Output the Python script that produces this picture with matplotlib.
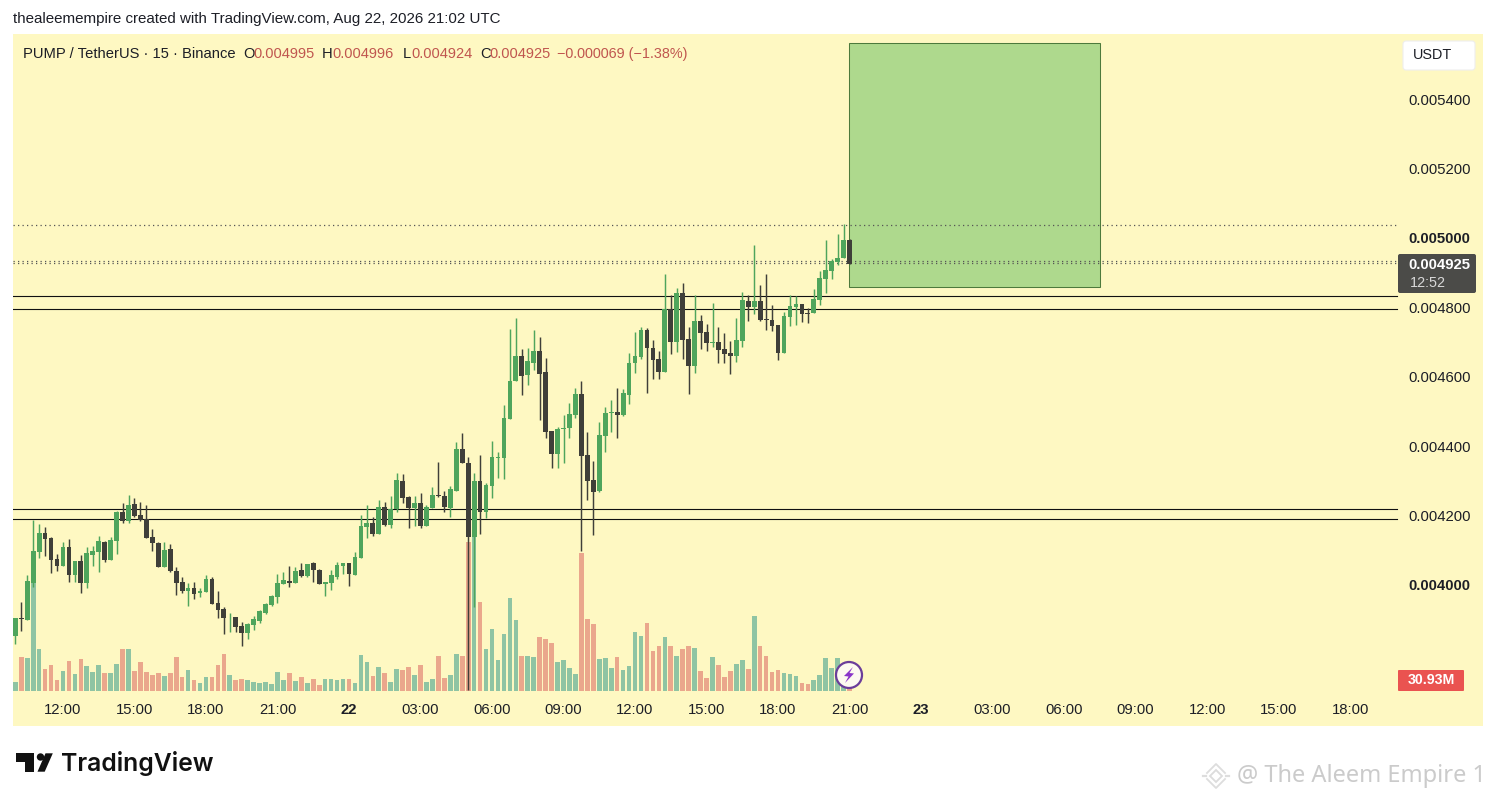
#!/usr/bin/env python3
import numpy as np
import matplotlib
matplotlib.use("Agg")
import matplotlib.pyplot as plt
from matplotlib.patches import Rectangle, FancyBboxPatch, Circle, Polygon

plt.rcParams['font.family'] = ['Liberation Sans', 'DejaVu Sans']

# 15 min candles, prices in millionths of USDT, first bar is 10:00
opens = [3854,3905,3899,4005,4096,4149,4135,4075,4055,4109,
         4029,4069,4007,4086,4095,4124,4072,4128,4209,4185,
         4233,4201,4189,4137,4120,4053,4103,4040,4009,3984,
         3990,3978,3980,4017,3947,3931,3907,3908,3882,3863,
         3885,3895,3920,3941,3966,4003,4011,4007,4043,4026,
         4064,4043,4004,4007,4024,4056,4062,4030,4079,4167,
         4178,4147,4225,4173,4218,4300,4254,4221,4236,4170,
         4223,4259,4256,4223,4272,4391,4352,4137,4299,4209,
         4286,4366,4367,4478,4588,4660,4605,4641,4674,4614,
         4444,4377,4450,4452,4489,4550,4375,4303,4271,4429,
         4496,4498,4489,4548,4640,4657,4735,4682,4651,4614,
         4795,4700,4841,4708,4631,4760,4729,4698,4700,4680,
         4669,4660,4704,4818,4801,4818,4767,4764,4749,4669,
         4772,4801,4810,4784,4785,4821,4882,4906,4931,4942,4995]
closes = [3904,3903,4012,4098,4149,4133,4072,4055,4109,4030,
          4069,4007,4091,4098,4126,4072,4130,4210,4183,4230,
          4200,4187,4136,4120,4053,4101,4040,4007,3984,3990,
          3975,3983,4018,3946,3929,3906,3909,3880,3863,3887,
          3903,3926,3945,3969,4006,4014,4007,4040,4026,4060,
          4043,4003,4009,4029,4059,4064,4032,4080,4170,4180,
          4147,4225,4173,4218,4303,4252,4223,4236,4170,4225,
          4258,4256,4225,4276,4391,4352,4137,4300,4209,4288,
          4368,4370,4480,4588,4660,4602,4645,4674,4609,4441,
          4378,4450,4452,4493,4550,4373,4300,4268,4432,4496,
          4498,4490,4553,4640,4660,4735,4684,4648,4614,4795,
          4701,4841,4706,4632,4761,4726,4697,4701,4677,4666,
          4660,4706,4821,4801,4818,4764,4765,4746,4670,4774,
          4804,4810,4782,4782,4824,4884,4908,4934,4942,4994,4925]
highs = [3904,3952,4029,4187,4176,4168,4137,4089,4124,4132,
         4069,4085,4110,4112,4141,4128,4139,4214,4235,4259,
         4250,4239,4231,4160,4125,4125,4117,4051,4022,4005,
         4009,3990,4028,4024,3983,3936,3918,3909,3894,3890,
         3911,3928,3947,3971,4031,4038,4055,4053,4064,4060,
         4067,4045,4009,4043,4067,4064,4064,4094,4202,4231,
         4197,4245,4240,4257,4324,4319,4257,4257,4264,4231,
         4283,4353,4272,4285,4413,4439,4370,4324,4375,4295,
         4416,4384,4519,4737,4768,4679,4684,4735,4716,4655,
         4444,4456,4490,4525,4567,4589,4442,4358,4471,4512,
         4533,4567,4564,4668,4730,4743,4740,4706,4675,4896,
         4836,4855,4869,4743,4836,4779,4752,4812,4744,4725,
         4704,4768,4845,4836,4980,4865,4896,4807,4749,4788,
         4836,4833,4810,4797,4852,4906,4994,4939,5012,5040,4996]
lows = [3830,3868,3899,3995,4077,4084,4034,4041,4055,4010,
        4010,3978,3990,4055,4036,4066,4072,4089,4180,4180,
        4197,4185,4136,4099,4053,4051,4036,3971,3976,3939,
        3960,3966,3980,3946,3906,3859,3865,3865,3825,3845,
        3870,3889,3915,3939,3947,4003,3995,4007,4022,4024,
        4008,4003,3968,3986,4016,4032,3997,4028,4079,4134,
        4142,4147,4171,4165,4209,4235,4165,4171,4164,4170,
        4221,4255,4211,4197,4272,4352,3697,3937,4147,4192,
        4252,4307,4304,4478,4588,4548,4576,4621,4475,4423,
        4337,4337,4351,4423,4480,4098,4245,4144,4269,4384,
        4442,4423,4487,4521,4612,4650,4554,4594,4594,4614,
        4665,4672,4651,4550,4612,4679,4675,4685,4639,4639,
        4608,4644,4687,4761,4781,4761,4735,4733,4648,4668,
        4746,4749,4759,4754,4785,4808,4841,4881,4922,4942,4924]
# volume in millions
volumes = [25,96,92,311,117,61,72,30,55,83,
           47,89,69,53,72,51,51,75,117,117,
           55,81,53,44,51,41,50,96,39,58,
           30,22,39,39,72,103,44,30,33,30,
           24,22,24,19,53,30,50,27,38,22,
           33,16,33,33,31,33,33,22,99,81,
           41,67,50,24,61,58,67,44,72,24,
           33,98,36,44,103,98,418,432,250,117,
           173,86,159,260,199,98,98,95,151,145,
           135,81,86,64,46,388,201,187,89,92,
           64,95,58,69,165,154,191,112,126,152,
           126,98,116,126,120,55,36,96,73,38,
           55,75,86,62,210,126,98,53,58,51,
           47,41,22,19,30,44,92,64,92,53,30.93]

price_ticks = [4000,4200,4400,4600,4800,5000,5200,5400]
bold_prices = [4000,5000]
time_ticks = list(range(8,225,12))
time_labels = ['12:00','15:00','18:00','21:00','22','03:00','06:00','09:00','12:00','15:00',
               '18:00','21:00','23','03:00','06:00','09:00','12:00','15:00','18:00']
level_lines = [4834,4794,4218,4189]
dotted_lines = [5037,4934,4928]
target_box = [139.9,182,4859,5562]  # start bar, end bar, low, high

PANE = '#fef8c2'
UP = '#4fa55c'
DOWN = '#3f3f39'
VOL_UP = '#8fc4a3'
VOL_DOWN = '#eaa78c'
TXT = '#1c1e26'
RED_TXT = '#c0564f'
LABEL_SIZE = 10.7

W, H = 1495, 801
fig = plt.figure(figsize=(W/100, H/100), dpi=100, facecolor='white')
rect = [13/W, 1-726/H, 1470/W, 692/H]

x = np.arange(len(opens))
o = np.array(opens)*1e-6
c = np.array(closes)*1e-6
hi = np.array(highs)*1e-6
lo = np.array(lows)*1e-6
vol = np.array(volumes)
is_up = c >= o

# volume pane sits below the candles
axv = fig.add_axes(rect, facecolor=PANE)
axv.bar(x, vol, width=0.78, color=[VOL_UP if u else VOL_DOWN for u in is_up])
axv.set_xlim(-0.386, 246.3)
axv.set_ylim(-99.2, 1845)
axv.set_yticks([])
axv.set_xticks([])
for s in axv.spines.values():
    s.set_visible(False)

ax = fig.add_axes(rect)
ax.patch.set_visible(False)
ax.set_xlim(-0.386, 246.3)
ax.set_ylim(3593.6e-6, 5587.9e-6)
for s in ax.spines.values():
    s.set_visible(False)

bx, by0, by1 = target_box[:2], target_box[2]*1e-6, target_box[3]*1e-6
ax.add_patch(Rectangle((bx[0], by0), bx[1]-bx[0], by1-by0, facecolor='#aed98d',
                       edgecolor='#4d7a3c', linewidth=0.75, zorder=1))

for p in level_lines:
    ax.plot([-0.386, 231.8], [p*1e-6, p*1e-6], color='#101010', lw=0.8, zorder=2)
for p in dotted_lines:
    ax.plot([-0.386, 231.8], [p*1e-6, p*1e-6], color='#555555', lw=0.9, ls=(0, (1, 2.6)), zorder=2)

colors = [UP if u else DOWN for u in is_up]
ax.vlines(x, lo, hi, colors=colors, lw=1.05, zorder=3)
ax.bar(x, np.maximum(np.abs(c-o), 2e-6), bottom=np.minimum(o, c), width=0.8, color=colors, zorder=4)

ax.yaxis.tick_right()
ax.set_yticks([p*1e-6 for p in price_ticks])
ax.set_yticklabels(['%.6f' % (p*1e-6) for p in price_ticks])
ax.tick_params(axis='y', length=0, pad=-54, labelsize=LABEL_SIZE, colors=TXT)
for lab, p in zip(ax.get_yticklabels(), price_ticks):
    if p in bold_prices:
        lab.set_fontweight('bold')

ax.set_xticks(time_ticks)
ax.set_xticklabels(time_labels)
ax.tick_params(axis='x', length=0, pad=-16.5, labelsize=LABEL_SIZE, colors=TXT)
for lab in ax.get_xticklabels():
    if len(lab.get_text()) == 2:
        lab.set_fontweight('bold')

# everything outside the chart scales, in pixels
ov = fig.add_axes([0, 0, 1, 1])
ov.set_xlim(0, W)
ov.set_ylim(H, 0)
ov.axis('off')
ov.patch.set_visible(False)

ov.text(13, 19, 'thealeemempire created with TradingView.com, Aug 22, 2026 21:02 UTC',
        fontsize=10.87, color=TXT, va='center')
ov.text(23, 54, 'PUMP / TetherUS · 15 · Binance', fontsize=10.6, color=TXT, va='center')
for tx, s, col, fs in [(243, 'O', TXT, 10.6), (253, '0.004995', RED_TXT, 10.5), (322, 'H', TXT, 10.6),
                       (332, '0.004996', RED_TXT, 10.5), (403, 'L', TXT, 10.6), (411, '0.004924', RED_TXT, 10.5),
                       (480, 'C', TXT, 10.6), (489, '0.004925', RED_TXT, 10.5),
                       (557, '−0.000069 (−1.38%)', RED_TXT, 10.35)]:
    ov.text(tx, 54, s, fontsize=fs, color=col, va='center')

ov.add_patch(FancyBboxPatch((1403, 41), 72, 29, boxstyle='round,pad=0,rounding_size=3',
                            facecolor='white', edgecolor='#eeeeee', lw=0.8))
ov.text(1413, 55, 'USDT', fontsize=10.4, color=TXT, va='center')

ov.add_patch(FancyBboxPatch((1398, 254), 78, 39, boxstyle='round,pad=0,rounding_size=2',
                            facecolor='#4b4b48', edgecolor='none'))
ov.text(1408, 265, '0.004925', fontsize=LABEL_SIZE, color='white', va='center', fontweight='bold')
ov.text(1410, 283, '12:52', fontsize=10.4, color='#d8d8d8', va='center')

ov.add_patch(FancyBboxPatch((1398, 670), 66, 21, boxstyle='round,pad=0,rounding_size=1',
                            facecolor='#ea5350', edgecolor='none'))
ov.text(1431, 680.5, '30.93M', fontsize=10.2, color='white', va='center', ha='center', fontweight='bold')

# lightning button
ov.add_patch(Circle((849, 675), 13, facecolor='#fdfaf0', edgecolor='#6b3d9a', lw=1.6, zorder=5))
ov.add_patch(Polygon([(853, 667), (844, 676), (848.5, 676.5), (845, 683), (854, 673.5), (849.5, 673)],
                     closed=True, facecolor='#8a35c9', edgecolor='none', zorder=6))

# TradingView logo
ov.add_patch(Polygon([(15.7, 753.3), (34.3, 753.3), (34.3, 771.7), (25, 771.7), (25, 761.7), (15.7, 761.7)],
                     closed=True, facecolor='#111111', edgecolor='none'))
ov.add_patch(Circle((40.5, 757), 3.7, facecolor='#111111', edgecolor='none'))
ov.add_patch(Polygon([(45.5, 753.3), (52.8, 753.3), (44.7, 771.7), (37.5, 771.7)],
                     closed=True, facecolor='#111111', edgecolor='none'))
ov.text(61, 764, 'TradingView', fontsize=17.8, fontfamily='Inter', fontweight='semibold', color='#111111', va='center')

# watermark
ov.text(1237, 776, '@ The Aleem Empire 1', fontsize=17, fontfamily='Noto Sans', color='#cbcbcb', va='center')
ov.add_patch(Polygon([(1216, 770), (1222, 776), (1216, 782), (1210, 776)], closed=True,
                     facecolor='none', edgecolor='#dcdcdc', lw=1.3))
ov.plot([1207, 1216, 1225], [773, 764, 773], color='#dddddd', lw=1.3)
ov.plot([1207, 1216, 1225], [779, 788, 779], color='#dddddd', lw=1.3)
ov.plot([1203, 1206], [776, 776], color='#dddddd', lw=1.6)
ov.plot([1226, 1229], [776, 776], color='#dddddd', lw=1.6)

fig.savefig('out.png', dpi=100)
